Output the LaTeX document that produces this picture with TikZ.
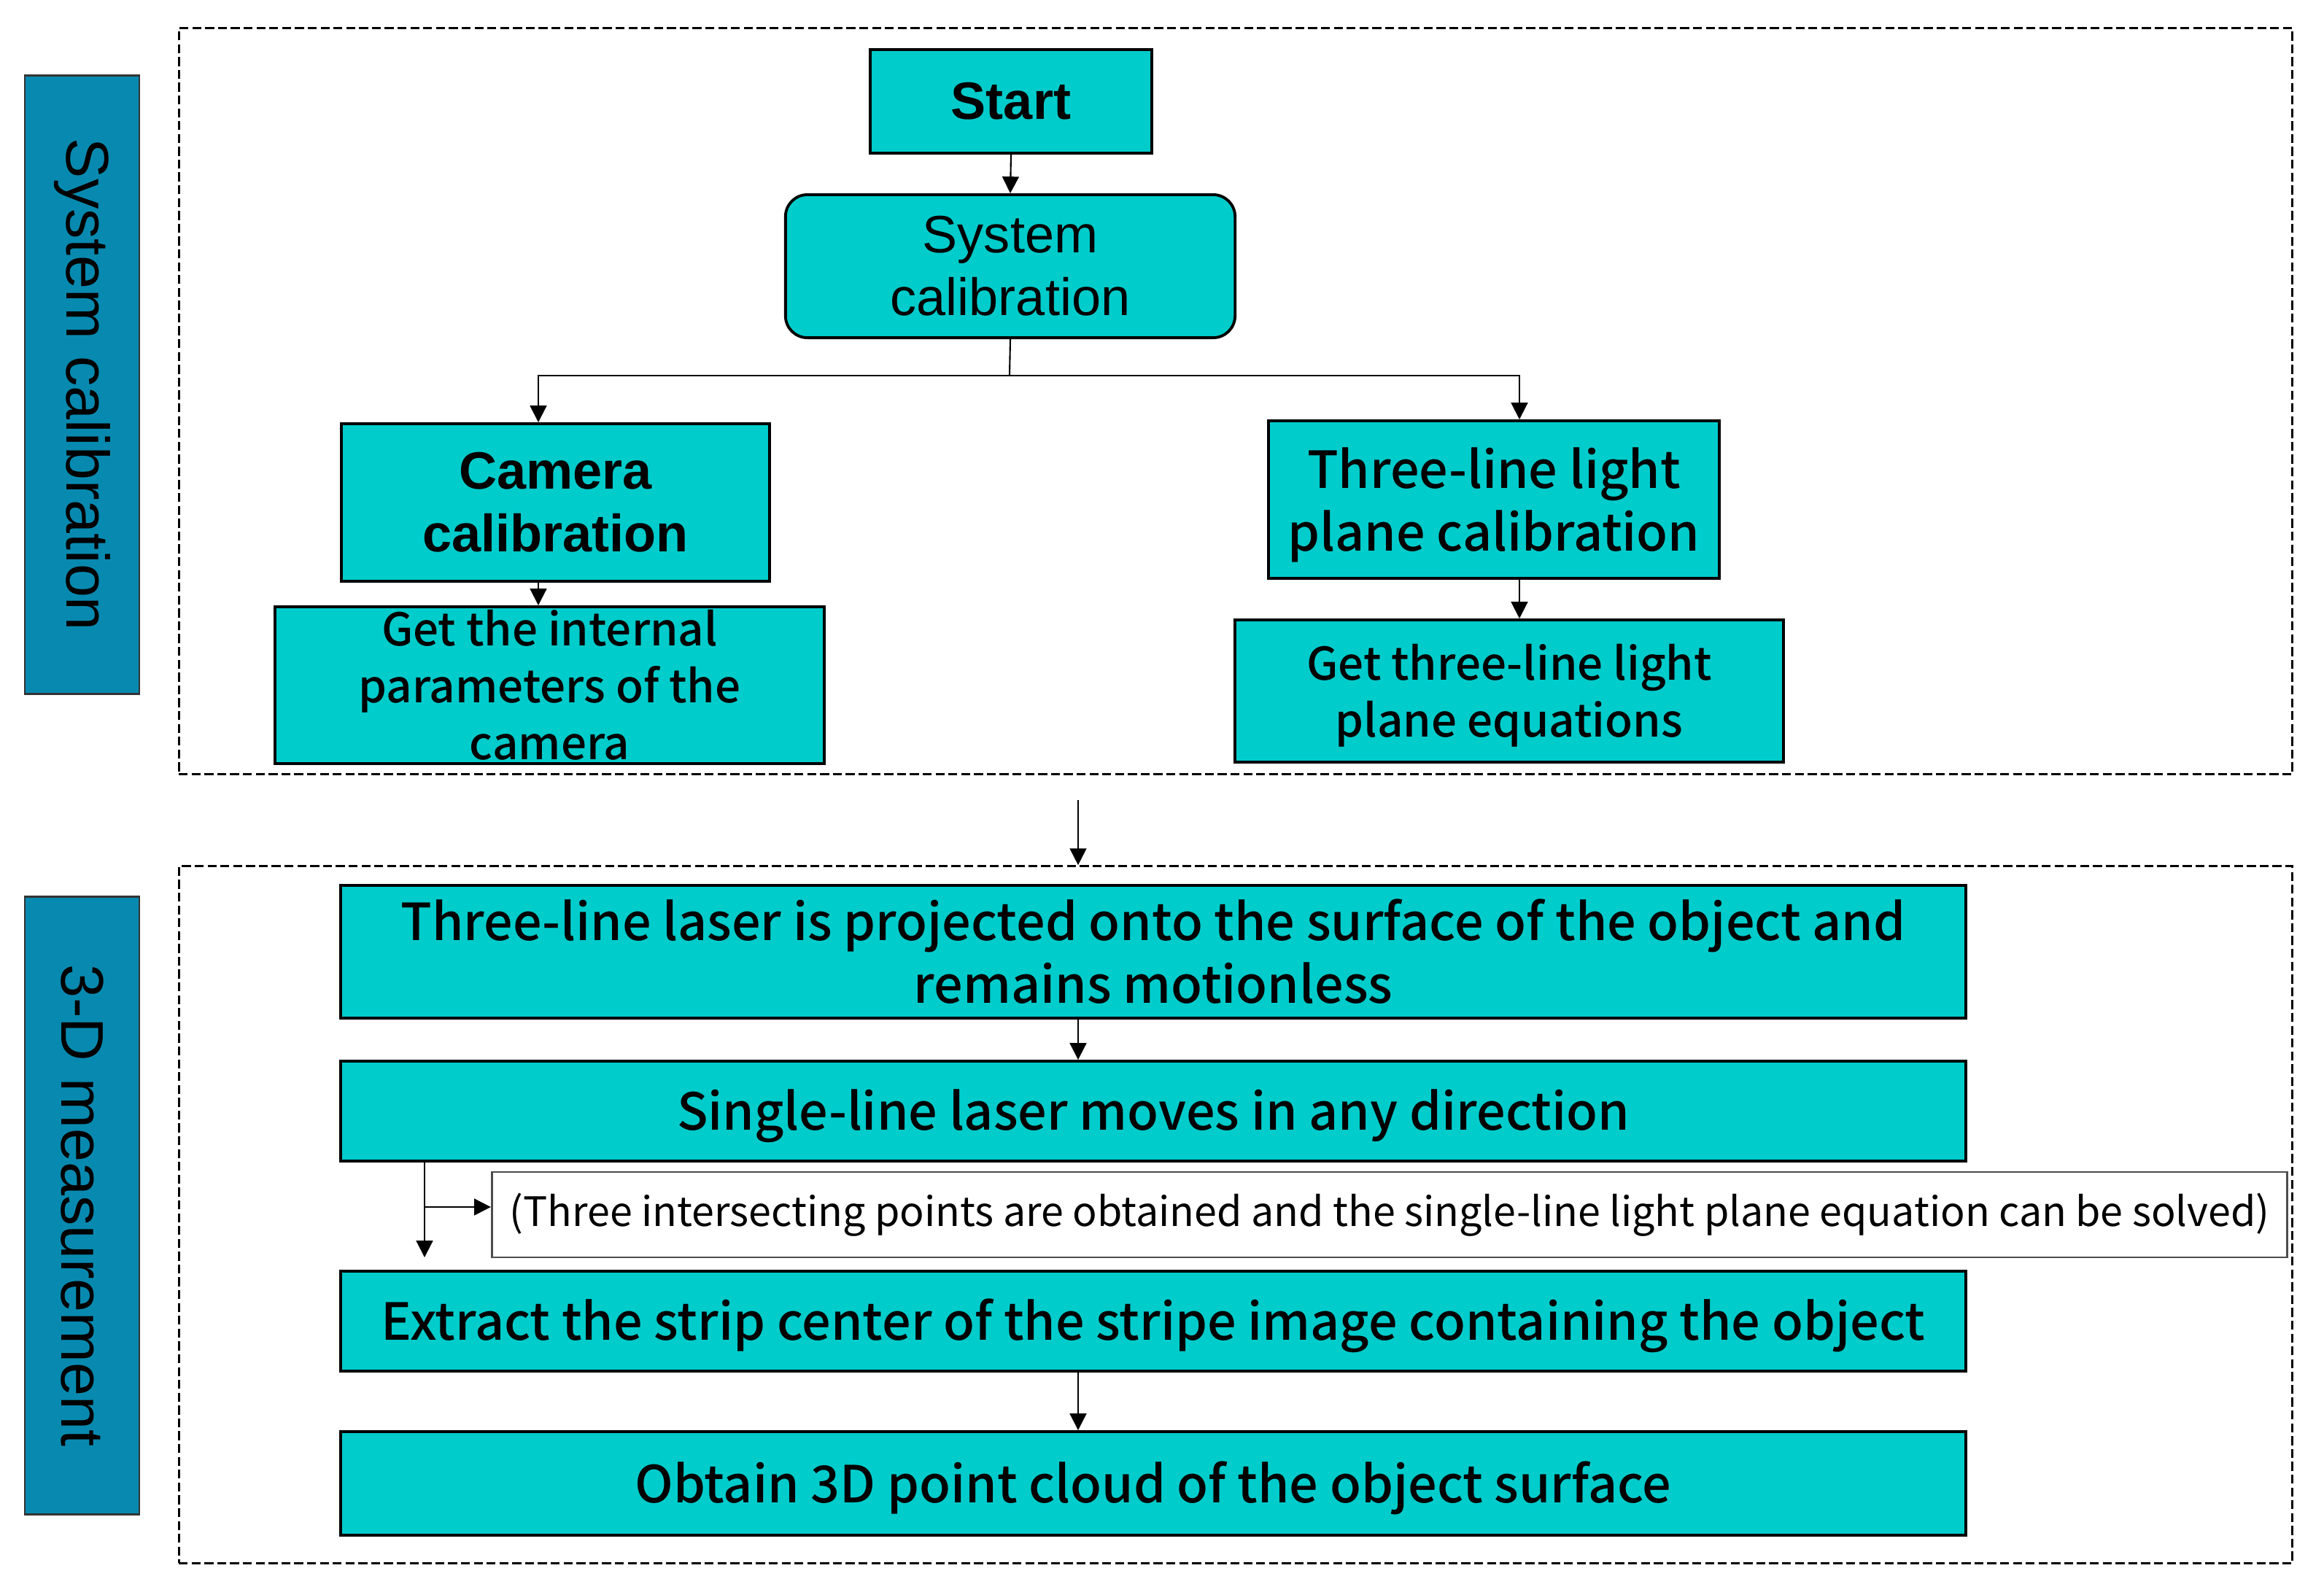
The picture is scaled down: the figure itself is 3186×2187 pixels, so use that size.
\documentclass[tikz,border=0pt]{standalone}
\usepackage{fontspec}
\setmainfont{Liberation Sans}
\newfontfamily\yh{Noto Sans CJK SC}[UprightFont=* Medium]
\newfontfamily\yhr{Noto Sans CJK SC}
\usetikzlibrary{arrows.meta}
\definecolor{boxcyan}{RGB}{0,204,204}
\definecolor{labelblue}{RGB}{8,138,176}
\newcommand\lift{\rule{0pt}{1em}}
\begin{document}
\begin{tikzpicture}[x=0.01cm,y=-0.01cm,
  box/.style={draw=black, line width=1.1pt, fill=boxcyan, inner sep=0pt, align=center, text=black},
  lbl/.style={draw=black!80, line width=0.8pt, fill=labelblue, inner sep=0pt, rotate=-90,
    minimum width=8.47cm, minimum height=1.57cm, font=\fontsize{23.5pt}{28pt}\selectfont},
  arialB/.style={font=\fontsize{20.5pt}{24.5pt}\selectfont\bfseries},
  arialR/.style={font=\fontsize{20.5pt}{24.5pt}\selectfont},
  yhB/.style={font=\yh\fontsize{19.9pt}{24.5pt}\selectfont},
  yhS/.style={font=\yh\fontsize{17.6pt}{22.2pt}\selectfont},
  arr/.style={-{Triangle[length=6.5pt,width=6.5pt]}, line width=0.6pt},
  dashbox/.style={draw=black, dash pattern=on 3.5pt off 1.5pt, line width=0.9pt, inner sep=0pt}]
\useasboundingbox (0,0) rectangle (3186,2187);
% dashed frames
\node[dashbox, minimum width=28.96cm, minimum height=10.22cm] (topframe) at (1694,550) {};
\node[dashbox, minimum width=28.96cm, minimum height=9.55cm] (botframe) at (1694,1665.5) {};
% side labels
\node[lbl] (lab1) at (112.5,527.5) {System calibration};
\node[lbl, minimum width=8.46cm] (lab2) at (112.5,1653) {3-D measurement};
% top part
\node[box, minimum width=3.86cm, minimum height=1.42cm, arialB] (start) at (1386,139) {Start};
\node[box, rounded corners=0.3cm, minimum width=6.16cm, minimum height=1.96cm, arialR] (sys) at (1385,365) {System\\calibration};
\node[box, minimum width=5.87cm, minimum height=2.16cm, arialB] (cam) at (761.5,689) {Camera\\calibration};
\node[box, minimum width=7.53cm, minimum height=2.15cm, yhS] (intr) at (753.5,939.5) {Get the internal\\parameters of the\\camera};
\node[box, minimum width=6.18cm, minimum height=2.16cm, yhB] (three) at (2048,685) {\lift Three-line light\\plane calibration};
\node[box, minimum width=7.52cm, minimum height=1.95cm, yhS] (threeq) at (2069,947.5) {\lift Get three-line light\\plane equations};
% bottom part
\node[box, minimum width=22.26cm, minimum height=1.82cm, yhB] (b1) at (1581,1305) {Three-line laser is projected onto the surface of the object and\\remains motionless};
\node[box, minimum width=22.26cm, minimum height=1.37cm, yhB] (b2) at (1581,1523.5) {\lift Single-line laser moves in any direction};
\node[draw=black!70, line width=0.8pt, fill=white, inner sep=0pt, minimum width=24.6cm, minimum height=1.17cm,
  font=\yhr\fontsize{15.8pt}{18pt}\selectfont] (note) at (1905,1665.5) {(Three intersecting points are obtained and the single-line light plane equation can be solved)};
\node[box, minimum width=22.26cm, minimum height=1.37cm, yhB] (b3) at (1581,1811.5) {\lift Extract the strip center of the stripe image containing the object};
\node[box, minimum width=22.26cm, minimum height=1.42cm, yhB] (b4) at (1581,2034) {\lift Obtain 3D point cloud of the object surface};
% connectors top
\draw[arr] (start.south) -- (sys.north);
\coordinate (split) at (1384,515);
\coordinate (camx) at (738,0);
\coordinate (threex) at (2083,0);
\draw[line width=0.6pt] (sys.south) -- (split);
\draw[arr] (split) -| (camx |- cam.north);
\draw[arr] (split) -| (threex |- three.north);
\draw[arr] (camx |- cam.south) -- (camx |- intr.north);
\draw[arr] (threex |- three.south) -- (threex |- threeq.north);
% between frames
\coordinate (gap) at (1478,1097);
\draw[arr] (gap) -- (gap |- botframe.north);
% connectors bottom
\coordinate (midx) at (1478,0);
\draw[arr] (midx |- b1.south) -- (midx |- b2.north);
\draw[arr] (midx |- b3.south) -- (midx |- b4.north);
\coordinate (bx) at (582,0);
\coordinate (bend) at (582,1724);
\coordinate (bmid) at (582,1655);
\draw[arr] (bx |- b2.south) -- (bend);
\draw[arr] (bmid) -- (bmid -| note.west);
\end{tikzpicture}
\end{document}
